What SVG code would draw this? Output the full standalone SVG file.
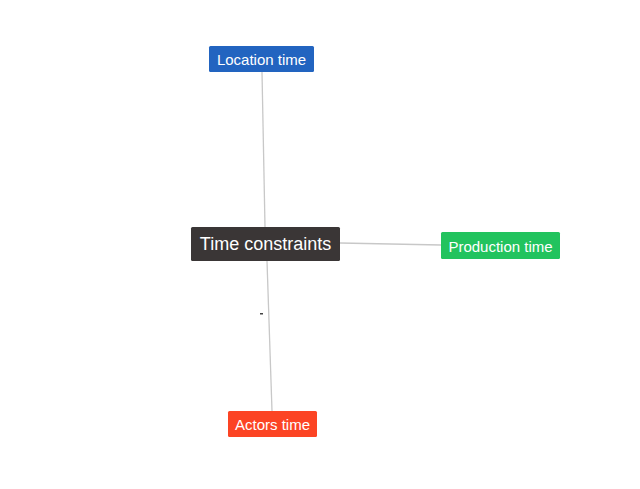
<svg xmlns="http://www.w3.org/2000/svg" width="640" height="489" viewBox="0 0 640 489">
<style>
.lbl{font-family:"Liberation Sans",Arial,sans-serif;fill:#fff;text-anchor:middle;dominant-baseline:central}
.edge{stroke:#c8c8c8;stroke-width:1.3;fill:none}
</style>
<rect width="640" height="489" fill="#fff"/>
<g id="connectors">
<line class="edge" x1="262" y1="72" x2="265" y2="227"/>
<line class="edge" x1="267" y1="261" x2="272" y2="411"/>
<line class="edge" x1="340" y1="243" x2="441" y2="245"/>
</g>
<rect x="260" y="313" width="3" height="1.5" fill="#444"/>
<g id="n-center">
<rect x="191" y="227" width="149" height="34" rx="1.5" fill="#3a3636"/>
<text class="lbl" x="265.5" y="244" font-size="18">Time constraints</text>
</g>
<g id="n-location">
<rect x="209" y="46" width="105" height="26" rx="1.5" fill="#2264c0"/>
<text class="lbl" x="261.5" y="59.5" font-size="15">Location time</text>
</g>
<g id="n-production">
<rect x="441" y="232" width="119" height="27" rx="1.5" fill="#22c35e"/>
<text class="lbl" x="500.5" y="246" font-size="15">Production time</text>
</g>
<g id="n-actors">
<rect x="228" y="411" width="89" height="26" rx="1.5" fill="#fc4424"/>
<text class="lbl" x="272.5" y="424.5" font-size="15">Actors time</text>
</g>
</svg>
